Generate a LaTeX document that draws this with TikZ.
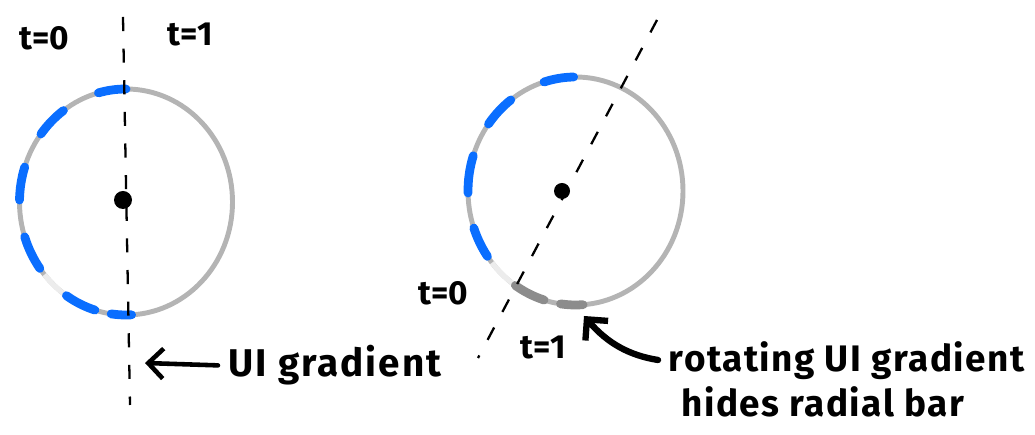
\documentclass[tikz,border=0pt]{standalone}
\usepackage{fontspec}
\setmainfont{Fira Sans}
\usetikzlibrary{arrows.meta}
\definecolor{ringgray}{HTML}{B4B4B4}
\definecolor{barblue}{HTML}{0A6EFF}
\definecolor{bargray}{HTML}{8C8C8C}
\tikzset{
	ring/.style={ringgray, line width=2.8pt},
	fade/.style={ringgray!25, line width=3pt},
	bluebar/.style={barblue, line width=5pt, line cap=round},
	greybar/.style={bargray, line width=5pt, line cap=round},
	gradline/.style={black, line width=1.3pt, dash pattern=on 8pt off 10pt},
	hand/.style={font=\bfseries\fontsize{22}{26}\selectfont\addfontfeatures{LetterSpace=5}, inner sep=2pt},
	handnote/.style={font=\bfseries\fontsize{21}{26}\selectfont\addfontfeatures{LetterSpace=4}, inner sep=2pt},
	tlabel/.style={font=\bfseries\fontsize{19}{22}\selectfont, inner sep=0pt},
	pointer/.style={-{Straight Barb[length=3mm,width=6mm]}, line width=2.6pt, line cap=round}
}
\begin{document}
\begin{tikzpicture}
					\useasboundingbox (0,0) rectangle (20.7,8.7);
					% left: gradient at rest
					\coordinate (lc) at (2.52,4.66);
					\draw[ring] (lc) ellipse[x radius=2.13, y radius=2.26];
					\draw[fade] (lc) ++(220:2.13 and 2.26) arc[start angle=220, end angle=234, x radius=2.13, y radius=2.26];
					\draw[bluebar] (lc) ++(90:2.13 and 2.26) arc[start angle=90, end angle=105, x radius=2.13, y radius=2.26];
					\draw[bluebar] (lc) ++(126:2.13 and 2.26) arc[start angle=126, end angle=143, x radius=2.13, y radius=2.26];
					\draw[bluebar] (lc) ++(162:2.13 and 2.26) arc[start angle=162, end angle=179, x radius=2.13, y radius=2.26];
					\draw[bluebar] (lc) ++(198:2.13 and 2.26) arc[start angle=198, end angle=216, x radius=2.13, y radius=2.26];
					\draw[bluebar] (lc) ++(236:2.13 and 2.26) arc[start angle=236, end angle=253, x radius=2.13, y radius=2.26];
					\draw[bluebar] (lc) ++(262:2.13 and 2.26) arc[start angle=262, end angle=273, x radius=2.13, y radius=2.26];
					\coordinate (ltop) at (2.46,8.36);
					\coordinate (lbot) at (2.6,0.6);
					\draw[gradline] (ltop)--(lbot);
					\fill (2.46,4.7) circle (0.18);
					\node[tlabel] (lzero) at (0.88,7.94){t=0};
					\node[tlabel] (lone) at (3.8,8.0){t=1};
					\node[hand, anchor=base west] (ui) at (4.5,1.16){UI gradient};
					\coordinate (uitip) at (2.9,1.44);
					\draw[pointer, shorten <=4pt] (ui.west) to (uitip);
					% right: gradient rotated
					\coordinate (rc) at (11.51,4.88);
					\draw[ring] (rc) ellipse[x radius=2.15, y radius=2.28];
					\draw[fade] (rc) ++(219:2.15 and 2.28) arc[start angle=219, end angle=234, x radius=2.15, y radius=2.28];
					\draw[bluebar] (rc) ++(91:2.15 and 2.28) arc[start angle=91, end angle=107, x radius=2.15, y radius=2.28];
					\draw[bluebar] (rc) ++(127:2.15 and 2.28) arc[start angle=127, end angle=144, x radius=2.15, y radius=2.28];
					\draw[bluebar] (rc) ++(162:2.15 and 2.28) arc[start angle=162, end angle=181, x radius=2.15, y radius=2.28];
					\draw[bluebar] (rc) ++(199:2.15 and 2.28) arc[start angle=199, end angle=215, x radius=2.15, y radius=2.28];
					\draw[greybar] (rc) ++(236:2.15 and 2.28) arc[start angle=236, end angle=253, x radius=2.15, y radius=2.28];
					\draw[greybar] (rc) ++(262:2.15 and 2.28) arc[start angle=262, end angle=274, x radius=2.15, y radius=2.28];
					\coordinate (rtop) at (13.14,8.3);
					\coordinate (rbot) at (9.56,1.54);
					\draw[gradline] (rtop)--(rbot);
					\fill (11.24,4.88) circle (0.16);
					\node[tlabel] (rzero) at (8.86,2.84){t=0};
					\node[tlabel] (rone) at (10.86,1.74){t=1};
					\node[handnote, anchor=base west] (rota) at (13.3,1.26){rotating UI gradient};
					\node[handnote, anchor=base west] (rotb) at (13.55,0.36){hides radial bar};
					\coordinate (bartip) at (11.68,2.38);
					\draw[pointer, line width=3.6pt, shorten <=4pt] (rota.west) to[bend left=20] (bartip);
				\end{tikzpicture}
\end{document}
